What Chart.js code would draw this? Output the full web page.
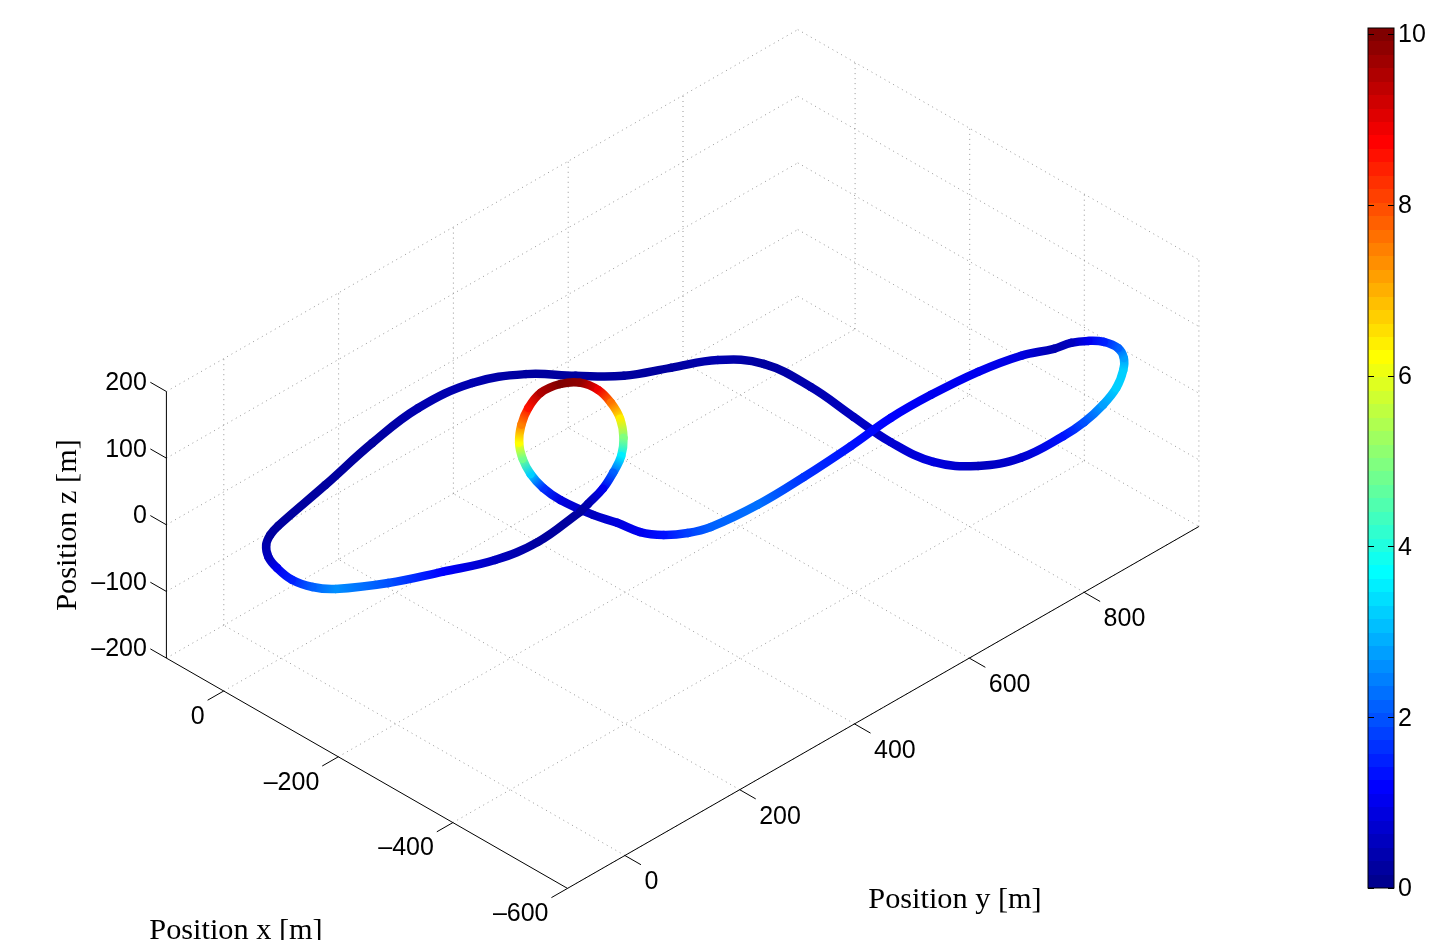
<!DOCTYPE html>
<html>
<head>
<meta charset="utf-8">
<title>Position</title>
<script src="https://cdn.jsdelivr.net/npm/chart.js@4"></script>
<style>
  body { margin: 0; background: #fff; overflow: hidden; }
  #track { position: absolute; left: 0; top: 0; }
  #colorbar { position: absolute; left: 1360px; top: 0; }
</style>
</head>
<body>
<canvas id="track" width="1433" height="940"></canvas>
<canvas id="colorbar" width="73" height="940"></canvas>
<script>
// flight path, in metres
const posX = [-241,-250,-240,-212,-182,-145,-122,-93,-62,-38,-18,-6,1,22,45,58,49,16,-30,-72,-101,-130,-176,-252,-335,-405,-473,-518,-543,-547,-544,-534,-520,-499,-481,-461,-439,-424,-412,-406,-388,-375,-369,-369,-377,-383,-385,-378,-367,-349,-324,-290,-257,
  -224,-209,-198,-191,-188,-190,-196,-207,-224,-241,-257,-268,-276,-279,-277,-270,-261,-248,-241];
const posY = [280,198,133,69,5,-50,-67,-74,-69,-60,-44,-25,-4,99,204,297,382,442,483,525,578,631,665,671,663,657,664,697,747,817,856,899,936,969,988,998,995,983,965,941,902,840,764,694,616,528,446,371,342,318,302,296,287,
  263,248,237,230,227,229,235,246,263,280,296,307,315,318,316,309,300,287,280];
const posZ = [0,0,0,0,0,0,0,0,0,0,0,0,0,0,0,0,0,0,0,0,0,0,0,0,0,0,0,0,0,0,0,0,0,0,0,0,0,0,0,0,0,0,0,0,0,0,0,0,0,0,0,0,0,
  18,36,57,80,104,131,156,179,192,194,183,164,140,111,84,59,35,12,0];
const pathValue = [.2,.3,.6,1.2,2,2.6,2.2,1.5,1,.6,.4,.3,.25,.2,.3,.35,.4,.3,.2,.2,.3,.4,.3,.4,.5,.7,.8,.6,.7,1.4,2,2.8,3.2,3.3,2.8,2.2,1.5,1,.6,.4,.8,1,1.1,1.2,1.4,1.7,2.3,2.2,1.8,1.4,1.1,.8,.5,
  .9,1.6,3.2,4.8,6.2,7.5,8.6,9.5,10,9.8,8.9,7.7,6.3,4.9,3.5,2.2,1,.4,.2];

const xTicks = [0, -200, -400, -600];
const yTicks = [0, 200, 400, 600, 800];
const zTicks = [-200, -100, 0, 100, 200];
const xRange = [-600, 100];
const yRange = [-100, 1000];
const zRange = [-200, 200];
const colorRange = [0, 10.07];
const colorTicks = [0, 2, 4, 6, 8, 10];

const xLabel = 'Position x [m]';
const yLabel = 'Position y [m]';
const zLabel = 'Position z [m]';

const tickLen = 28;
const sansFont = '25px "Liberation Sans"';
const serifFont = '30.3px "Liberation Serif"';

// same view as the 3D axes: plane units come out as canvas pixels
function project(x, y, z) {
  const a = y - yRange[0];
  const b = x - xRange[0];
  return {
    x: 567.5 + 0.574 * a - 0.573 * b,
    y: 888.4 - 0.329 * (a + b) - 0.6665 * (z - zRange[0])
  };
}

function jetLevel(i) {
  const t = (i + 1) / 64;
  const band = c => Math.round(255 * Math.max(0, Math.min(1, 1.5 - Math.abs(4 * t - c))));
  return `rgb(${band(3)},${band(2)},${band(1)})`;
}

function jet(v) {
  const i = Math.floor((v - colorRange[0]) / (colorRange[1] - colorRange[0]) * 64);
  return jetLevel(Math.max(0, Math.min(63, i)));
}

function line3d(p, q, style) {
  return Object.assign({
    data: [project(p[0], p[1], p[2]), project(q[0], q[1], q[2])],
    showLine: true,
    pointRadius: 0,
    borderWidth: 1,
    tension: 0
  }, style);
}

const gridStyle = { borderColor: 'rgba(95,95,95,0.65)', borderDash: [1, 4] };
const axisStyle = { borderColor: '#000' };
const [x0, x1] = xRange, [y0, y1] = yRange, [z0, z1] = zRange;

const gridSets = [];
xTicks.forEach(x => {
  gridSets.push(line3d([x, y0, z0], [x, y1, z0], gridStyle));
  gridSets.push(line3d([x, y1, z0], [x, y1, z1], gridStyle));
});
yTicks.forEach(y => {
  gridSets.push(line3d([x0, y, z0], [x1, y, z0], gridStyle));
  gridSets.push(line3d([x1, y, z0], [x1, y, z1], gridStyle));
});
zTicks.forEach(z => {
  gridSets.push(line3d([x1, y0, z], [x1, y1, z], gridStyle));
  gridSets.push(line3d([x1, y1, z], [x0, y1, z], gridStyle));
});

const axisSets = [
  line3d([x0, y0, z0], [x1, y0, z0], axisStyle),
  line3d([x0, y0, z0], [x0, y1, z0], axisStyle),
  line3d([x1, y0, z0], [x1, y0, z1], axisStyle)
];
xTicks.forEach(x => axisSets.push(line3d([x, y0, z0], [x, y0 - tickLen, z0], axisStyle)));
yTicks.forEach(y => axisSets.push(line3d([x0, y, z0], [x0 - tickLen, y, z0], axisStyle)));
zTicks.forEach(z => axisSets.push(line3d([x1, y0, z], [x1 + tickLen, y0, z], axisStyle)));

const pathSet = {
  data: posX.map((x, i) => project(x, posY[i], posZ[i])),
  showLine: true,
  pointRadius: 0,
  borderWidth: 8.5,
  borderCapStyle: 'round',
  borderJoinStyle: 'round',
  tension: 0.4,
  segment: {
    borderColor: c => {
      const g = c.chart.ctx.createLinearGradient(c.p0.x, c.p0.y, c.p1.x, c.p1.y);
      g.addColorStop(0, jet(pathValue[c.p0DataIndex]));
      g.addColorStop(1, jet(pathValue[c.p1DataIndex]));
      return g;
    }
  }
};

function tickText(v) {
  return String(v).replace('-', '\u2013');
}

const axisText = {
  id: 'axisText',
  afterDatasetsDraw(chart) {
    const c = chart.ctx;
    const sx = chart.scales.x, sy = chart.scales.y;
    const put = (text, pt, dx, dy, align) => {
      c.textAlign = align;
      c.fillText(text, sx.getPixelForValue(pt.x) + dx, sy.getPixelForValue(pt.y) + dy);
    };
    c.save();
    c.fillStyle = '#000';
    c.textBaseline = 'middle';
    c.font = sansFont;
    xTicks.forEach(x => put(tickText(x), project(x, y0, z0), -19, 26, 'right'));
    yTicks.forEach(y => put(tickText(y), project(x0, y, z0), 19.5, 27, 'left'));
    zTicks.forEach(z => put(tickText(z), project(x1, y0, z), -19.5, -8.5, 'right'));

    c.font = serifFont;
    c.textAlign = 'center';
    c.fillText(xLabel, 236, 931);
    c.fillText(yLabel, 955, 900);
    c.translate(68, 525);
    c.rotate(-Math.PI / 2);
    c.fillText(zLabel, 0, 0);
    c.restore();
  }
};

new Chart(document.getElementById('track'), {
  type: 'scatter',
  data: { datasets: [pathSet].concat(axisSets, gridSets) },
  options: {
    responsive: false,
    animation: false,
    events: [],
    plugins: { legend: { display: false }, tooltip: { enabled: false } },
    scales: {
      x: { type: 'linear', display: false, min: 0, max: 1433 },
      y: { type: 'linear', display: false, min: 0, max: 940, reverse: true }
    }
  },
  plugins: [axisText]
});

// colour scale, one floating bar painted with the 64 jet levels
function barFill(context) {
  const area = context.chart.chartArea;
  if (!area) return '#000';
  const g = context.chart.ctx.createLinearGradient(0, area.bottom, 0, area.top);
  for (let i = 0; i < 64; i++) {
    g.addColorStop(i / 64, jetLevel(i));
    g.addColorStop((i + 1) / 64, jetLevel(i));
  }
  return g;
}

const barFrame = {
  id: 'barFrame',
  afterDatasetsDraw(chart) {
    const c = chart.ctx, area = chart.chartArea, sy = chart.scales.y;
    c.save();
    c.strokeStyle = '#000';
    c.lineWidth = 1;
    colorTicks.forEach(v => {
      const p = Math.round(sy.getPixelForValue(v)) + 0.5;
      c.beginPath();
      c.moveTo(area.left, p);
      c.lineTo(area.left + 6, p);
      c.moveTo(area.right - 6, p);
      c.lineTo(area.right, p);
      c.stroke();
    });
    c.strokeRect(area.left, area.top, area.right - area.left, area.bottom - area.top);
    c.restore();
  }
};

new Chart(document.getElementById('colorbar'), {
  type: 'bar',
  data: {
    labels: [''],
    datasets: [{
      data: [colorRange],
      backgroundColor: barFill,
      barPercentage: 1,
      categoryPercentage: 1
    }]
  },
  options: {
    responsive: false,
    animation: false,
    events: [],
    layout: { padding: { left: 8, top: 28, bottom: 52 } },
    plugins: { legend: { display: false }, tooltip: { enabled: false } },
    scales: {
      x: { display: false },
      y: {
        position: 'right',
        min: colorRange[0],
        max: colorRange[1],
        afterFit: s => { s.width = 39; },
        grid: { display: false, drawTicks: false },
        border: { display: false },
        ticks: {
          stepSize: 2,
          includeBounds: false,
          padding: 4,
          labelOffset: 1.5,
          color: '#000',
          font: { family: 'Liberation Sans', size: 25 }
        }
      }
    }
  },
  plugins: [barFrame]
});
</script>
</body>
</html>
